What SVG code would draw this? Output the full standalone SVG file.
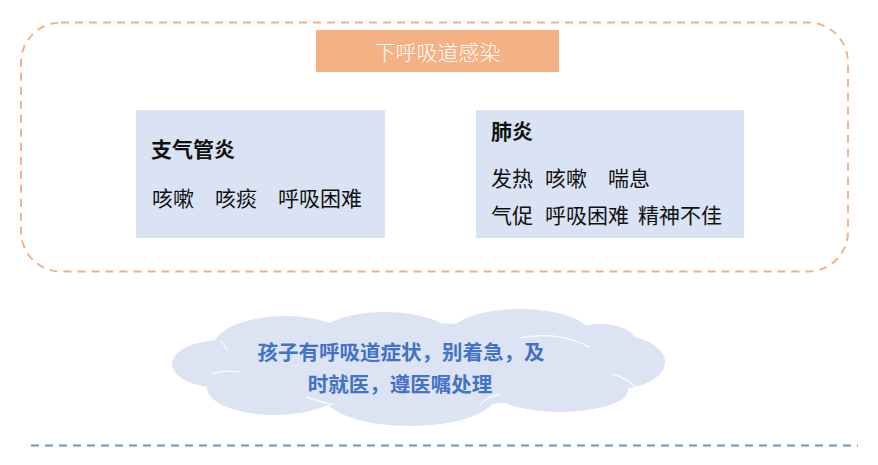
<svg xmlns="http://www.w3.org/2000/svg" width="878" height="465" viewBox="0 0 878 465">
<style>
.t{font-family:"Microsoft YaHei","Noto Sans CJK SC","Noto Sans",sans-serif;font-size:21px;fill:#111}
.b{font-weight:bold}
.box{fill:#DAE3F3}
.cl{fill:#DCE3F2}
.ct{font-family:"Microsoft YaHei","Noto Sans CJK SC",sans-serif;font-size:20.5px;font-weight:bold;fill:#4472C4;text-anchor:middle}
</style>
<rect width="878" height="465" fill="#fff"/>
<g id="frame">
<rect x="21" y="22.5" width="827" height="249" rx="40" ry="40" fill="none" stroke="#F2B185" stroke-width="1.9" stroke-dasharray="8 6"/>
</g>
<g id="title">
<rect x="316" y="30" width="243" height="42" fill="#F4B183"/>
<text class="t" x="437.5" y="60" text-anchor="middle" style="fill:#fff;font-weight:300">下呼吸道感染</text>
</g>
<g id="bronchitis">
<rect class="box" x="136" y="110" width="249" height="128"/>
<text class="t b" x="151" y="157">支气管炎</text>
<text class="t" x="152" y="206">咳嗽　咳痰　呼吸困难</text>
</g>
<g id="pneumonia">
<rect class="box" x="476" y="110" width="268" height="128"/>
<text class="t b" x="491" y="139">肺炎</text>
<text class="t" y="186"><tspan x="491">发热</tspan><tspan x="545">咳嗽</tspan><tspan x="608">喘息</tspan></text>
<text class="t" y="223"><tspan x="491">气促</tspan><tspan x="545">呼吸困难</tspan><tspan x="638">精神不佳</tspan></text>
</g>
<g id="cloud">
<g class="cl">
<ellipse cx="222" cy="364" rx="50" ry="24"/>
<ellipse cx="285" cy="348" rx="72" ry="32"/>
<ellipse cx="385" cy="338" rx="68" ry="26"/>
<ellipse cx="520" cy="336" rx="72" ry="27"/>
<ellipse cx="612" cy="362" rx="53" ry="28"/>
<ellipse cx="600" cy="340" rx="35" ry="16"/>
<ellipse cx="560" cy="390" rx="68" ry="22"/>
<ellipse cx="410" cy="396" rx="85" ry="30"/>
<ellipse cx="275" cy="388" rx="68" ry="27"/>
<ellipse cx="420" cy="365" rx="190" ry="42"/>
</g>
<g fill="none" stroke="#fff" stroke-width="1.5" opacity="0.8">
<path d="M212 374 Q222 370 240 372"/>
<path d="M228 351 Q224 344 220 340"/>
<path d="M520 338 Q556 330 590 347"/>
<path d="M612 374 Q626 378 636 387"/>
<path d="M306 397 Q318 401 334 405"/>
<path d="M480 406 Q484 398 500 394"/>
</g>
<text class="ct" x="401" y="360">孩子有呼吸道症状，别着急，及</text>
<text class="ct" x="400" y="392">时就医，遵医嘱处理</text>
</g>
<g id="connectors">
<line x1="31" y1="445.5" x2="858" y2="445.5" stroke="#6A9BC0" stroke-width="2" stroke-dasharray="8 6"/>
</g>
</svg>
